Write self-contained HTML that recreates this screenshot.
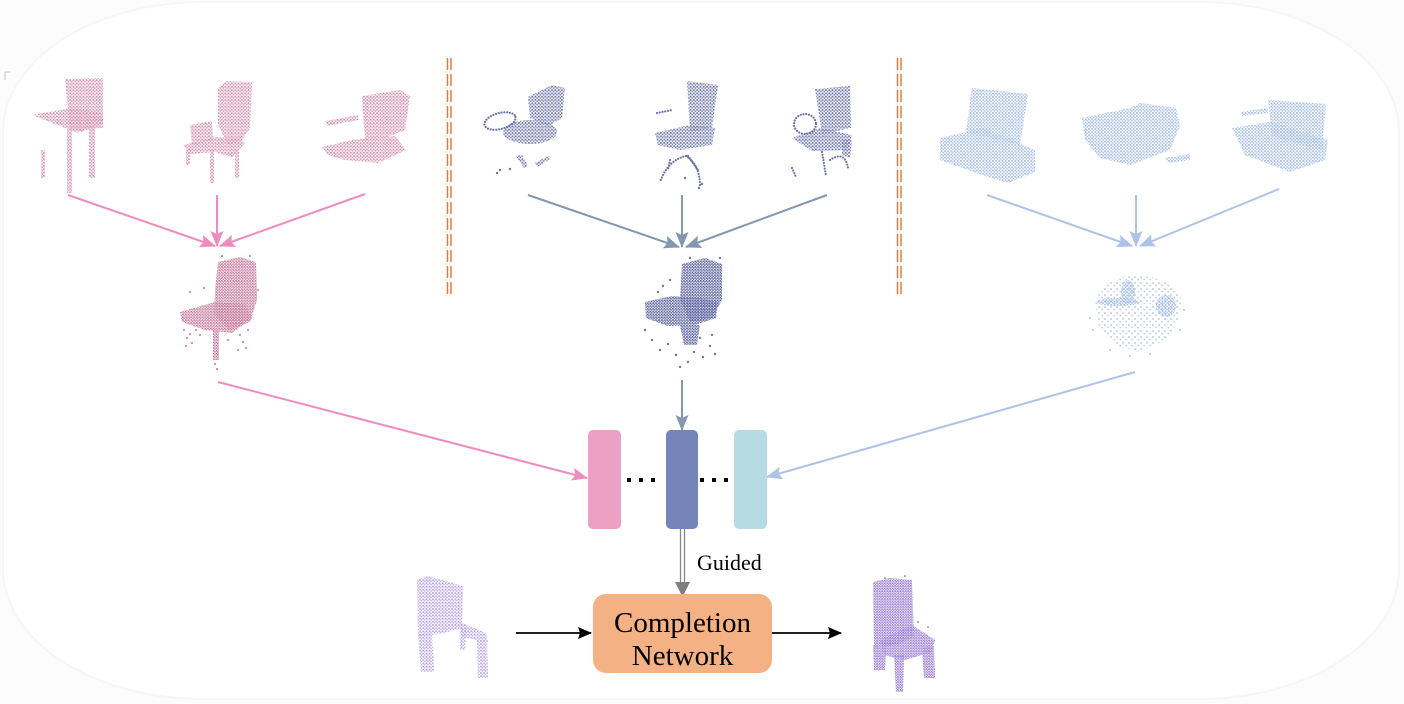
<!DOCTYPE html>
<html>
<head>
<meta charset="utf-8">
<style>
html,body{margin:0;padding:0;background:#fcfcfc;}
svg{display:block;}
</style>
</head>
<body>
<svg width="1404" height="704" viewBox="0 0 1404 704" xmlns="http://www.w3.org/2000/svg">
<defs>
  <pattern id="pk" width="3.3" height="3.3" patternUnits="userSpaceOnUse">
    <circle cx="0.9" cy="0.9" r="0.95" fill="#d488a9"/><circle cx="2.5" cy="2.4" r="0.85" fill="#d88fae"/>
  </pattern>
  <pattern id="pkD" width="2.8" height="2.8" patternUnits="userSpaceOnUse">
    <circle cx="0.8" cy="0.8" r="0.95" fill="#c47a9b"/><circle cx="2.1" cy="2" r="0.85" fill="#cf88a7"/>
  </pattern>
  <pattern id="bl" width="3.3" height="3.3" patternUnits="userSpaceOnUse">
    <circle cx="0.9" cy="0.9" r="0.95" fill="#666fa9"/><circle cx="2.5" cy="2.4" r="0.85" fill="#6e76ae"/>
  </pattern>
  <pattern id="blD" width="2.8" height="2.8" patternUnits="userSpaceOnUse">
    <circle cx="0.8" cy="0.8" r="0.95" fill="#5a63a0"/><circle cx="2.1" cy="2" r="0.85" fill="#6870a8"/>
  </pattern>
  <pattern id="lb" width="3.2" height="3.2" patternUnits="userSpaceOnUse">
    <circle cx="0.9" cy="0.9" r="0.95" fill="#a3bbe2"/><circle cx="2.4" cy="2.3" r="0.85" fill="#adc3e6"/>
  </pattern>
  <pattern id="lbS" width="6" height="6" patternUnits="userSpaceOnUse">
    <circle cx="1" cy="1" r="0.9" fill="#a9c0e4"/><circle cx="4.2" cy="3.6" r="0.8" fill="#b3c7e8"/>
  </pattern>
  <pattern id="pu" width="3.2" height="3.2" patternUnits="userSpaceOnUse">
    <circle cx="0.9" cy="0.9" r="0.9" fill="#b097e6"/><circle cx="2.4" cy="2.3" r="0.8" fill="#b8a2e9"/>
  </pattern>
  <pattern id="puD" width="2.6" height="2.6" patternUnits="userSpaceOnUse">
    <circle cx="0.8" cy="0.8" r="0.9" fill="#9c7fd6"/><circle cx="2" cy="1.9" r="0.8" fill="#a78cdc"/>
  </pattern>
  <marker id="mPk" markerUnits="userSpaceOnUse" markerWidth="16" markerHeight="13" refX="15" refY="6.5" orient="auto"><path d="M0,0 L16,6.5 L0,13 L3,6.5 z" fill="#ef8cbf"/></marker>
  <marker id="mSl" markerUnits="userSpaceOnUse" markerWidth="16" markerHeight="13" refX="15" refY="6.5" orient="auto"><path d="M0,0 L16,6.5 L0,13 L3,6.5 z" fill="#8497b0"/></marker>
  <marker id="mLb" markerUnits="userSpaceOnUse" markerWidth="16" markerHeight="13" refX="15" refY="6.5" orient="auto"><path d="M0,0 L16,6.5 L0,13 L3,6.5 z" fill="#aec3e6"/></marker>
  <marker id="mBk" markerUnits="userSpaceOnUse" markerWidth="14" markerHeight="12" refX="13" refY="6" orient="auto"><path d="M0,0 L14,6 L0,12 L2,6 z" fill="#000"/></marker>
</defs>

<!-- background rounded panel -->
<rect x="3" y="2" width="1396" height="697" rx="200" ry="130" fill="#ffffff" stroke="#f6f6f6" stroke-width="2"/>
<path d="M5,80 L5,72 L11,72" fill="none" stroke="#c8c8c8" stroke-width="1"/>

<!-- orange double dashed separators -->
<g stroke="#e27b3b" stroke-width="1.5" stroke-dasharray="12 4">
  <line x1="447.5" y1="58" x2="447.5" y2="296"/>
  <line x1="451" y1="58" x2="451" y2="296"/>
  <line x1="897.5" y1="58" x2="897.5" y2="296"/>
  <line x1="901" y1="58" x2="901" y2="296"/>
</g>

<!-- ============ PINK GROUP ============ -->
<g fill="url(#pk)">
  <!-- chair 1 -->
  <polygon points="65,79 103,78 103,128 70,130"/>
  <polygon points="32,115 72,108 103,113 103,124 78,133"/>
  <rect x="67" y="128" width="5" height="65"/>
  <rect x="89" y="125" width="6" height="53"/>
  <rect x="41" y="150" width="4" height="28"/>
  <!-- chair 2 -->
  <polygon points="218,88 226,81 252,82 250,128 242,140 228,145 218,125"/>
  <polygon points="190,125 212,121 213,140 192,145"/>
  <polygon points="183,145 215,137 240,138 245,143 232,157 215,152 190,154"/>
  <rect x="186" y="150" width="4" height="15"/>
  <rect x="210" y="150" width="4" height="33"/>
  <rect x="235" y="150" width="4" height="28"/>
  <!-- chair 3 -->
  <polygon points="362,96 400,90 410,96 405,130 385,138 365,140"/>
  <polygon points="326,121 358,115 358,120 327,126"/>
  <polygon points="322,147 352,140 395,136 406,150 378,163 345,160 328,155"/>
</g>
<!-- pink aggregated -->
<g fill="url(#pkD)">
  <polygon points="218,262 240,257 256,262 257,300 250,322 230,330 214,315 215,290"/>
  <polygon points="180,312 215,302 245,304 252,318 232,333 205,330 182,322"/>
  <rect x="213" y="330" width="6" height="30"/>
</g>
<g fill="#d08aa8">
  <circle cx="184" cy="330" r="1.1"/><circle cx="187" cy="338" r="1.1"/><circle cx="186" cy="346" r="1.1"/><circle cx="190" cy="334" r="1.1"/>
  <circle cx="192" cy="343" r="1.1"/><circle cx="196" cy="330" r="1.1"/><circle cx="240" cy="335" r="1.1"/><circle cx="243" cy="342" r="1.1"/>
  <circle cx="246" cy="348" r="1.1"/><circle cx="238" cy="350" r="1.1"/><circle cx="215" cy="364" r="1.1"/><circle cx="217" cy="369" r="1.1"/>
  <circle cx="190" cy="292" r="1.1"/><circle cx="204" cy="288" r="1.1"/><circle cx="222" cy="256" r="1.1"/><circle cx="250" cy="256" r="1.1"/>
  <circle cx="258" cy="290" r="1.1"/><circle cx="248" cy="330" r="1.1"/><circle cx="200" cy="335" r="1.1"/><circle cx="228" cy="340" r="1.1"/>
</g>

<!-- pink arrows -->
<g stroke="#ef8cbf" stroke-width="2" fill="none">
  <line x1="68" y1="195" x2="215" y2="246" marker-end="url(#mPk)"/>
  <line x1="217" y1="195" x2="217" y2="246" marker-end="url(#mPk)"/>
  <line x1="365" y1="194" x2="220" y2="246" marker-end="url(#mPk)"/>
  <line x1="218" y1="382" x2="587" y2="478" marker-end="url(#mPk)"/>
</g>

<!-- ============ BLUE GROUP ============ -->
<g fill="url(#bl)">
  <polygon points="528,97 552,85 565,88 562,118 548,126 530,118"/>
  <ellipse cx="530" cy="132" rx="27" ry="12"/>
  <polygon points="516,156 522,155 528,166 524,168"/>
  <polygon points="535,163 548,156 550,159 537,167"/>
</g>
<g fill="none" stroke="#6870aa" stroke-width="2.2" stroke-dasharray="0 2.8" stroke-linecap="round">
  <ellipse cx="500" cy="121" rx="16" ry="8" transform="rotate(-15 500 121)"/>
  <line x1="657" y1="113" x2="672" y2="110"/>
  <path d="M686,156 Q668,160 660,182"/>
  <path d="M686,156 Q700,165 700,186"/>
  <path d="M688,156 L698,170"/>
  <path d="M670,160 L668,170"/>
  <ellipse cx="805" cy="124" rx="11" ry="10"/>
  <path d="M822,152 L826,176"/>
  <path d="M830,160 Q845,150 848,168"/>
  <path d="M792,168 L796,177"/>
</g>
<g fill="#6c74ac">
  <circle cx="497" cy="173" r="1.2"/><circle cx="500" cy="170" r="1.2"/><circle cx="510" cy="169" r="1.2"/>
  <circle cx="699" cy="188" r="1.2"/><circle cx="702" cy="184" r="1.2"/><circle cx="685" cy="178" r="1.2"/>
</g>
<g fill="url(#bl)">
  <polygon points="687,81 718,85 712,128 690,132"/>
  <polygon points="655,133 690,125 715,128 712,145 680,150 658,145"/>
  <polygon points="815,89 850,86 851,128 822,134"/>
  <polygon points="792,138 820,128 852,135 848,150 812,151"/>
  <polygon points="842,140 852,140 850,158 842,155"/>
</g>
<!-- blue aggregated -->
<g fill="url(#blD)">
  <polygon points="682,264 705,258 722,264 722,300 712,318 690,322 680,300"/>
  <polygon points="645,302 672,296 700,298 718,302 716,318 695,325 668,326 646,318"/>
  <polygon points="680,325 700,325 697,345 684,345"/>
</g>
<g fill="#6c74ac">
  <circle cx="652" cy="340" r="1.2"/><circle cx="660" cy="350" r="1.2"/><circle cx="668" cy="344" r="1.2"/><circle cx="676" cy="355" r="1.2"/>
  <circle cx="688" cy="362" r="1.2"/><circle cx="694" cy="352" r="1.2"/><circle cx="703" cy="357" r="1.2"/><circle cx="710" cy="346" r="1.2"/>
  <circle cx="715" cy="354" r="1.2"/><circle cx="680" cy="367" r="1.2"/><circle cx="645" cy="330" r="1.2"/><circle cx="700" cy="338" r="1.2"/>
  <circle cx="663" cy="286" r="1.2"/><circle cx="670" cy="280" r="1.2"/><circle cx="690" cy="258" r="1.2"/><circle cx="720" cy="258" r="1.2"/>
  <circle cx="658" cy="292" r="1.2"/><circle cx="712" cy="335" r="1.2"/>
</g>

<!-- blue arrows -->
<g stroke="#8497b0" stroke-width="2" fill="none">
  <line x1="528" y1="195" x2="679" y2="247" marker-end="url(#mSl)"/>
  <line x1="682" y1="195" x2="682" y2="247" marker-end="url(#mSl)"/>
  <line x1="827" y1="195" x2="686" y2="247" marker-end="url(#mSl)"/>
  <line x1="682" y1="380" x2="682" y2="430" marker-end="url(#mSl)"/>
</g>

<!-- ============ LIGHT BLUE GROUP ============ -->
<g fill="url(#lb)">
  <polygon points="972,88 1028,94 1020,145 966,132"/>
  <polygon points="940,138 983,128 1035,150 1035,172 1008,183 985,176 940,160"/>
  <polygon points="1082,118 1130,108 1140,103 1176,108 1180,126 1170,150 1130,165 1100,158 1085,140"/>
  <polygon points="1165,158 1190,154 1190,160 1168,163"/>
  <polygon points="1268,100 1326,104 1322,150 1272,136"/>
  <polygon points="1232,128 1270,122 1328,140 1325,160 1290,172 1245,155"/>
  <polygon points="1240,112 1268,108 1268,113 1242,116"/>
</g>
<!-- light aggregated (sparse) -->
<g fill="url(#lbS)">
  <polygon points="1095,300 1105,285 1125,276 1150,276 1172,285 1182,300 1178,322 1165,340 1140,352 1115,345 1098,325"/>
</g>
<g fill="url(#lb)">
  <ellipse cx="1128" cy="292" rx="7" ry="12"/>
  <ellipse cx="1166" cy="306" rx="10" ry="11"/>
  <ellipse cx="1118" cy="302" rx="22" ry="4"/>
</g>
<g fill="#aec4e6">
  <circle cx="1090" cy="318" r="1"/><circle cx="1093" cy="330" r="1"/><circle cx="1184" cy="310" r="1"/><circle cx="1180" cy="330" r="1"/>
  <circle cx="1130" cy="356" r="1"/><circle cx="1150" cy="354" r="1"/><circle cx="1110" cy="350" r="1"/>
</g>

<!-- light arrows -->
<g stroke="#aec3e6" stroke-width="2" fill="none">
  <line x1="987" y1="195" x2="1132" y2="246" marker-end="url(#mLb)"/>
  <line x1="1136" y1="195" x2="1136" y2="246" marker-end="url(#mLb)"/>
  <line x1="1279" y1="189" x2="1140" y2="246" marker-end="url(#mLb)"/>
  <line x1="1135" y1="372" x2="767" y2="477" marker-end="url(#mLb)"/>
</g>

<!-- ============ BARS ============ -->
<rect x="588" y="430" width="33" height="99" rx="5" fill="#eba0c4"/>
<rect x="666" y="430" width="32" height="99" rx="5" fill="#7585ba"/>
<rect x="734" y="430" width="33" height="99" rx="5" fill="#b7dbe3"/>
<g fill="#000">
  <rect x="627" y="478" width="4" height="4"/><rect x="639" y="478" width="4" height="4"/><rect x="651" y="478" width="4" height="4"/>
  <rect x="700" y="478" width="4" height="4"/><rect x="712" y="478" width="4" height="4"/><rect x="724" y="478" width="4" height="4"/>
</g>

<!-- guided connector -->
<g stroke="#888" stroke-width="1.3">
  <line x1="680.5" y1="529" x2="680.5" y2="584"/>
  <line x1="684.5" y1="529" x2="684.5" y2="584"/>
</g>
<polygon points="675,582 690,582 682.5,597" fill="#7f7f7f"/>
<text x="697" y="570" font-family="'Liberation Serif', serif" font-size="22" fill="#000">Guided</text>

<!-- completion network -->
<rect x="593" y="594" width="179" height="79" rx="13" fill="#f4b183"/>
<text x="682.5" y="632" text-anchor="middle" font-family="'Liberation Serif', serif" font-size="29" fill="#000">Completion</text>
<text x="682.5" y="665" text-anchor="middle" font-family="'Liberation Serif', serif" font-size="29" fill="#000">Network</text>

<g stroke="#000" stroke-width="1.8">
  <line x1="516" y1="633" x2="591" y2="633" marker-end="url(#mBk)"/>
  <line x1="772" y1="633" x2="841" y2="633" marker-end="url(#mBk)"/>
</g>

<!-- input partial chair -->
<g fill="url(#pu)">
  <polygon points="417,580 428,576 463,586 462,628 440,634 418,636"/>
  <polygon points="460,622 486,633 488,642 462,637"/>
  <polygon points="418,634 432,633 434,672 421,672"/>
  <polygon points="460,628 466,628 465,650 460,650"/>
  <polygon points="477,640 487,640 488,678 478,678"/>
</g>
<!-- output complete chair -->
<g fill="url(#puD)">
  <polygon points="873,582 890,578 912,580 914,637 895,645 874,648"/>
  <polygon points="880,640 912,625 935,640 932,652 905,660 884,655"/>
  <polygon points="873,645 886,648 885,670 874,670"/>
  <polygon points="894,655 904,655 903,692 896,692"/>
  <polygon points="922,648 934,646 935,678 924,678"/>
</g>
<g fill="#a388dc">
  <circle cx="918" cy="622" r="1"/><circle cx="928" cy="627" r="1"/><circle cx="885" cy="578" r="1"/><circle cx="905" cy="576" r="1"/>
</g>
</svg>
</body>
</html>
